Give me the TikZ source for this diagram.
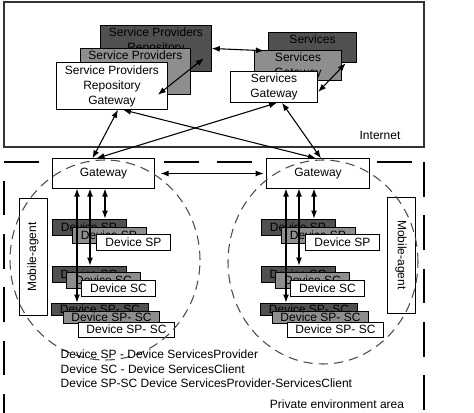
\documentclass[tikz,border=0pt]{standalone}
\usepackage{fontspec}
\setmainfont{Liberation Sans}
\usetikzlibrary{arrows.meta,calc}

\definecolor{boxdark}{HTML}{505050}
\definecolor{boxmid}{HTML}{8E8E8E}

\tikzset{
  every node/.style={font=\fontsize{9}{11.25}\selectfont},
  box/.style={draw=black, line width=0.7pt, inner sep=1pt, align=center},
  darkbox/.style={box, fill=boxdark},
  midbox/.style={box, fill=boxmid},
  whitebox/.style={box, fill=white},
  topbox/.style={minimum width=83pt, minimum height=35pt},
  srvbox/.style={minimum width=65.5pt, minimum height=23pt},
  devbox/.style={minimum width=55.5pt, minimum height=12pt},
  devwide/.style={minimum width=72.5pt, minimum height=11.25pt},
  link/.style={{Latex[length=6pt,width=4.5pt]}-{Latex[length=6pt,width=4.5pt]}, line width=0.8pt},
  zone/.style={draw=black!70, line width=0.8pt, dash pattern=on 7pt off 4.5pt},
  area/.style={line width=2pt, dash pattern=on 26pt off 14pt}
}

\begin{document}
\begin{tikzpicture}[x=0.75pt, y=-0.75pt]
  \useasboundingbox (0,0) rectangle (474,413);

  % Internet
  \draw[line width=1pt, black!80] (4,2) rectangle (424,147);
  \node (inet) at (380,135) {Internet};

  % private area
  \draw[area] (4,162) -- (424,162);
  \draw[area, dash phase=26pt] (4,162) -- (4,413);
  \draw[area] (424,162) -- (424,413);

  % repositories
  \node[darkbox, topbox] (sprD) at (156,48.5) {Service Providers\\Repository\\\phantom{Gateway}};
  \node[midbox, topbox] (sprG) at (135.5,71.5) {Service Providers\\\phantom{Repository}\\\phantom{Gateway}};
  \node[whitebox, topbox] (sprW) at (112,86) {Service Providers\\Repository\\Gateway};

  \node[darkbox, srvbox] (srvD) at (312.5,47.5) {Services\\\phantom{Gateway}};
  \node[midbox, srvbox] (srvG) at (298,65.5) {Services\\Gateway};
  \node[whitebox, srvbox] (srvW) at (274,87) {Services\\Gateway};

  % gateways and agents
  \node[whitebox, minimum width=77pt, minimum height=22pt] (gwL) at (103.5,173.5) {Gateway};
  \node[whitebox, minimum width=77pt, minimum height=22pt] (gwR) at (318,173.5) {Gateway};
  \node[whitebox, rotate=90, minimum width=88pt, minimum height=21pt] (mobL) at (33,257) {Mobile-agent};
  \node[whitebox, rotate=-90, minimum width=87pt, minimum height=21pt] (mobR) at (401,255) {Mobile-agent};

  % devices
  \foreach \sd/\dx in {L/0,R/209}{
    \begin{scope}[shift={(\dx,0)}]
      \node[darkbox, devbox] (spD\sd) at (89,227) {Device SP};
      \node[midbox, devbox] (spG\sd) at (109,235) {Device SP};
      \node[whitebox, devbox] (spW\sd) at (133.5,242.5) {Device SP};
      \node[darkbox, devbox] (scD\sd) at (89,274) {Device SC};
      \node[midbox, devbox] (scG\sd) at (103.5,280.5) {Device SC};
      \node[whitebox, devbox] (scW\sd) at (118.5,288.5) {Device SC};
      \node[darkbox, devwide, minimum height=9pt] (spscD\sd) at (100,309) {Device SP- SC};
      \node[midbox, devwide, minimum height=8.5pt] (spscG\sd) at (111.5,317.5) {Device SP- SC};
      \node[whitebox, devwide] (spscW\sd) at (126.5,329.5) {Device SP- SC};
      \coordinate (xa\sd) at (105,0);
      \coordinate (xb\sd) at (90,0);
      \coordinate (xc\sd) at (77,0);
    \end{scope}
    \draw[link] (gw\sd.south -| xa\sd) -- (spD\sd.north -| xa\sd);
    \draw[link] (gw\sd.south -| xb\sd) -- (scD\sd.north -| xb\sd);
    \draw[link] (gw\sd.south -| xc\sd) -- (spscD\sd.north -| xc\sd);
  }

  \draw[zone] (105,260) ellipse [x radius=71.25pt, y radius=75pt];
  \draw[zone] (323,262) ellipse [x radius=71.25pt, y radius=76.5pt];

  % links
  \draw[link] ($(sprW.south east)+(-10,-15)$) -- ($(sprD.south east)+(-8,-14)$);
  \draw[link] ($(srvW.east)+(0,5)$) -- ($(srvD.south east)+(-11,0)$);
  \draw[link] (sprD.east) -- ($(srvG.north west)+(10,1)$);
  \draw[link] ($(gwL.north)+(-11,0)$) -- ($(sprW.south)+(6,0)$);
  \draw[link] ($(gwL.north)+(-7,0)$) -- ($(srvW.south)+(3,0)$);
  \draw[link] ($(sprW.south)+(11,0)$) -- ($(gwR.north)+(-2,0)$);
  \draw[link] ($(srvW.south)+(8,0)$) -- ($(gwR.north)+(3,0)$);
  \draw[link, shorten <=4pt, shorten >=2pt] (gwL.east) -- (gwR.west);

  % legend
  \node[anchor=west, align=left, font=\fontsize{9}{10.9}\selectfont] (legend) at (56,369)
    {Device SP - Device ServicesProvider\\Device SC - Device ServicesClient\\Device SP-SC Device ServicesProvider-ServicesClient};
  \node (priv) at (337,404) {Private environment area};
\end{tikzpicture}
\end{document}
